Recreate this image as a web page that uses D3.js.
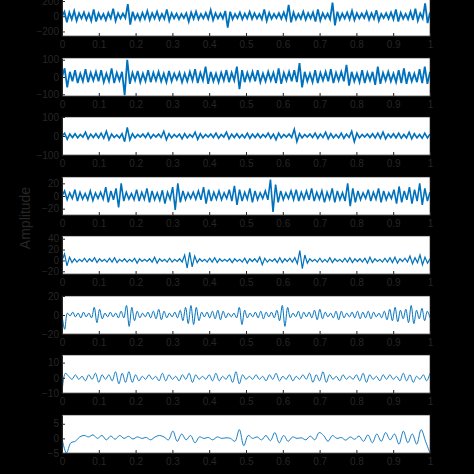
<!DOCTYPE html><html><head><meta charset="utf-8"><script src="https://cdn.jsdelivr.net/npm/d3@7"></script>
<style>body{margin:0;background:#000}svg{display:block}</style></head><body><svg id="c" width="474" height="474"></svg>
<script>
const xTicks=[0,0.1,0.2,0.3,0.4,0.5,0.6,0.7,0.8,0.9,1];
const xTickLabels=["0","0.1","0.2","0.3","0.4","0.5","0.6","0.7","0.8","0.9","1"];
const s1=[0,60,-80,50,-40,70,-60,40,-30,50,-45,35,-60,90,-70,40,-35,30,-50,45,-30,100,-60,40,-30,35,-25,160,-110,60,-40,30,-50,45,-35,70,-50,40,-30,60,-45,30,-35,90,-60,40,-30,35,-40,30,-25,40,-70,50,-35,60,-40,30,-30,45,-35,80,-50,40,-30,35,-30,70,-150,60,-40,30,-25,50,-40,35,-30,60,-35,40,-30,30,-40,90,-60,45,-35,30,-25,40,-35,50,-40,150,-80,50,-40,30,-35,60,-45,40,-30,50,-70,90,-55,40,-30,35,-40,180,-120,60,-45,35,-30,50,-40,70,-50,40,-30,35,-25,60,-45,40,-35,80,-60,30,-25,40,-35,50,-40,90,-70,45,-35,30,-40,60,-50,100,-60,40,-30,170,-90,50];
const s2=[0,50,-60,30,-25,40,-35,20,-25,45,-30,25,-20,30,-25,40,-30,20,-25,50,-35,25,-20,30,-105,100,-40,25,-20,35,-30,20,-25,40,-30,25,-20,30,-25,20,-30,35,-25,20,-15,25,-30,20,-25,30,-20,45,-35,25,-20,60,-40,30,-25,20,-30,25,-20,40,-30,25,-20,60,-70,40,-30,25,-20,30,-25,40,-30,20,-25,30,-20,25,-35,50,-40,25,-20,30,-25,40,-30,80,-60,30,-25,20,-30,40,-35,25,-20,30,-25,45,-35,25,-20,30,-25,70,-50,30,-25,20,-30,40,-35,25,-20,30,-45,60,-40,25,-20,30,-25,20,-30,40,-35,50,-40,30,-25,20,-30,45,-35,60,-40,30];
const s3=[0,15,-18,10,-8,12,-10,8,-6,20,-15,10,-8,12,-10,15,-12,25,-20,10,-8,6,-10,12,-30,45,-20,12,-10,8,-6,10,-8,15,-12,8,-6,10,-8,25,-20,12,-10,8,-6,10,-15,12,-10,8,-6,20,-18,12,-10,8,-6,10,-8,15,-12,8,-6,20,-15,10,-8,12,-10,8,-10,15,-12,10,-8,12,-10,8,-6,15,-12,10,-20,15,-10,8,-6,10,-8,35,-30,12,-10,8,-6,10,-8,15,-12,10,-8,20,-15,12,-10,8,-10,15,-12,10,-8,25,-30,15,-10,8,-6,10,-8,12,-10,15,-12,20,-15,10,-8,12,-10,15,-12,8,-10,20,-15,12,-10,8,-12,15,-10,10];
const s4=[0,8,-6,5,-4,10,-8,6,-5,4,-6,8,-7,5,-4,6,-5,14,-10,8,-6,12,-18,20,-8,6,-5,4,-6,10,-8,6,-5,12,-10,8,-6,5,-7,9,-12,6,-5,14,-22,20,-10,8,-6,5,-4,6,-5,8,-6,14,-12,10,-8,6,-5,8,-6,5,-4,10,-8,16,-14,10,-8,6,-5,12,-10,8,-6,5,-4,8,-6,26,-25,18,-10,8,-6,5,-4,8,-6,10,-8,6,-5,8,-6,12,-8,6,-5,8,-10,6,-5,12,-10,8,-6,5,-8,20,-16,12,-10,8,-6,5,-4,10,-8,6,-5,12,-10,8,-6,5,-4,10,-12,15,-10,8,-6,14,-12,10,-8,20,-14,12,-8,6];
const s5=[0,12,-10,6,-4,3,-3,2,-2,4,-3,3,-2,5,-4,3,-2,2,-3,4,-3,5,-4,2,-2,3,-3,2,-2,4,-5,3,-2,2,-2,3,-3,6,-5,3,-2,2,-3,4,-3,2,-2,3,-3,10,-14,15,-12,8,-4,3,-2,2,-3,4,-3,5,-4,3,-2,2,-2,3,-4,3,-2,2,-3,4,-5,3,-2,3,-3,6,-8,4,-3,2,-2,3,-4,5,-4,3,-2,4,-3,5,-6,18,-15,10,-5,3,-2,2,-3,4,-3,2,-3,5,-4,3,-2,2,-3,4,-3,5,-4,3,-2,3,-3,4,-5,6,-4,3,-2,2,-3,4,-3,5,-4,6,-5,3,-2,4,-3,8,-6,5,-4,10,-8,6,-5,3];
const s6=[0,-15,2,-1,3,-2,2,-3,3,-2,2,-3,8,-8,6,-4,2,-2,3,-2,2,-3,4,-3,10,-12,8,-6,4,-3,2,-2,3,-3,4,-4,6,-5,4,-3,2,-2,3,-3,5,-6,8,-9,10,-10,8,-6,3,-2,3,-3,4,-4,5,-5,4,-3,2,-2,2,-3,8,-10,5,-3,2,-2,3,-3,4,-4,3,-2,3,-3,5,-6,10,-12,8,-3,2,-2,4,-4,3,-2,3,-3,5,-5,6,-4,3,-2,2,-3,4,-5,4,-3,2,-2,3,-3,4,-4,3,-3,4,-4,3,-2,2,-3,4,-5,6,-6,8,-7,5,-4,6,-8,10,-9,5,-4,7,-6,4,-3];
const s7=[-10,3,1,-1,2,-1,1,-2,2,-1,3,-3,2,-1,2,-2,4,-4,3,-3,4,-3,2,-2,1,-1,2,-1,1,-2,3,-2,2,-1,1,-2,2,-1,3,-3,2,-1,1,-1,2,-2,3,-2,1,-1,2,-3,4,-4,2,-1,1,-1,2,-1,1,-2,2,-1,3,-2,1,-1,2,-2,1,-1,2,-1,3,-3,2,-2,4,-3,2,-1,1,-2,2,-1,1,-1,2,-2,3,-3,2,-1,1,-2,2,-1,2,-1,1,-2,3,-2,2,-3,1,-1,2,-2,3];
const s8=[0,-5,-1.5,-1,0.5,1,0.5,1.2,0,1,-0.5,0.8,-0.3,1,0,0.7,-0.2,0.5,0,0.3,-0.5,0.5,1,0.5,-0.5,2.5,-1,1.5,-0.5,1,-1.5,0.5,0,0.3,-0.5,0.5,0,0.2,0,-1,3,-2.5,1,0,0.5,-0.5,1,-0.8,2,-1.5,1,-1,0.5,0,0.2,-0.5,0.8,-0.5,2,1,-1,1,0,0.3,-0.6,0.5,-0.3,0.8,-1,1.2,-1.5,1.5,-1,2,-0.5,1.5,-2,2.5,-1.5,1.5,-2,3,-1,-5];
const series=[s1,s2,s3,s4,s5,s6,s7,s8];
const yDomains=[[-260,240],[-110,110],[-100,100],[-30,30],[-25,45],[-20,20],[-10,15],[-5,8]];
const yTicks=[[-200,0,200],[-100,0,100],[-100,0,100],[-20,0,20],[-20,0,20,40],[-20,0,20],[-10,0,10],[-5,0,5]];
const tops=[-2,58,117,177,236,296,355,415];
const smooth=[false,false,false,false,false,true,true,true];
const widths=[1.8,1.8,1.6,1.6,1.2,1,0.9,0.9];

const svg=d3.select("#c");
const L=62,R=430,H=38,tc="#262626";
const x=d3.scaleLinear().domain([0,1]).range([L,R]);
series.forEach((s,k)=>{
  const t=tops[k];
  const y=d3.scaleLinear().domain(yDomains[k]).range([t+H,t]);
  const g=svg.append("g");
  g.append("rect").attr("x",L).attr("y",t).attr("width",R-L).attr("height",H).attr("fill","#fff");
  g.append("defs").append("clipPath").attr("id","cp"+k).append("rect").attr("x",L).attr("y",t).attr("width",R-L).attr("height",H);
  const line=d3.line().x((d,i)=>x(i/(s.length-1))).y(d=>y(d)).curve(smooth[k]?d3.curveCatmullRom:d3.curveLinear);
  g.append("path").datum(s).attr("d",line).attr("fill","none").attr("stroke","#0072BD").attr("stroke-width",widths[k]).attr("clip-path",`url(#cp${k})`);
  const xa=g.append("g").attr("transform",`translate(0,${t+H})`).call(d3.axisBottom(x).tickValues(xTicks).tickFormat((d,i)=>xTickLabels[i]).tickSizeInner(-3).tickSizeOuter(0).tickPadding(5));
  const ya=g.append("g").attr("transform",`translate(${L},0)`).call(d3.axisLeft(y).tickValues(yTicks[k]).tickSizeInner(-3).tickSizeOuter(0).tickPadding(3));
  [xa,ya].forEach(a=>{a.selectAll("text").attr("fill",tc).style("font-family","Arial, Liberation Sans").style("font-size","10px");a.selectAll("line,path").attr("stroke",tc);});
  g.append("rect").attr("x",L).attr("y",t).attr("width",R-L).attr("height",H).attr("fill","none").attr("stroke",tc).attr("stroke-width",0.6);
});
svg.append("text").attr("transform","translate(30,218) rotate(-90)").attr("text-anchor","middle").attr("fill",tc).style("font-family","Arial, Liberation Sans").style("font-size","14px").style("font-weight","normal").text("Amplitude");
</script></body></html>
